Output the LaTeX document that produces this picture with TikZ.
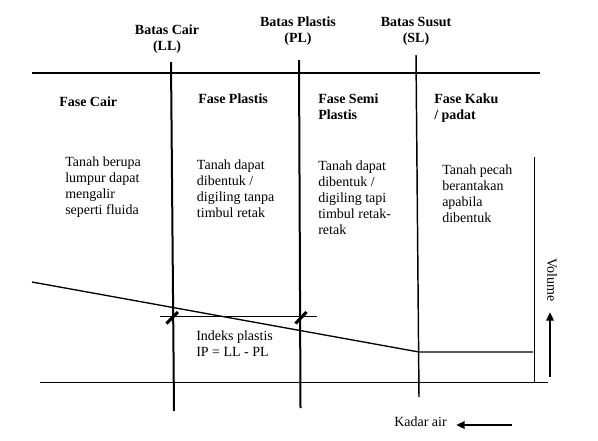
\documentclass[tikz,border=0pt]{standalone}
\usepackage{fontspec}
\setmainfont{Liberation Serif}
\usetikzlibrary{arrows.meta, positioning, calc}

\begin{document}
\begin{tikzpicture}[>=Latex, x=0.75pt, y=-0.75pt, every node/.style={font=\fontsize{10.5}{12}\selectfont, inner sep=0pt}]
% Define styles for limits, phase headers, descriptions and arrows
% (multi-line nodes sit on the baseline of their last line)
\tikzstyle{limit} = [line width=1.5pt]
\tikzstyle{head} = [font=\fontsize{10.5}{12}\selectfont\bfseries, align=center, anchor=base]
\tikzstyle{phase} = [font=\fontsize{10.5}{12}\selectfont\bfseries, align=left, anchor=base west]
\tikzstyle{desc} = [align=left, anchor=base west]
\tikzstyle{tick} = [line width=2.3pt]
\tikzstyle{axis} = [line width=1.8pt, -{Triangle[length=6.5pt, width=5.5pt]}]
\useasboundingbox (0,0) rectangle (598,440);

% Limit lines
\coordinate (LLtop) at (171,62);  \coordinate (LLbot) at (174,411);
\coordinate (PLtop) at (299,60);  \coordinate (PLbot) at (300.5,408);
\coordinate (SLtop) at (416,55);  \coordinate (SLbot) at (419,397);
\draw[line width=2pt] (32,73) coordinate (topL) -- (540,73) coordinate (topR);
\draw[limit] (LLtop) -- (LLbot);
\draw[limit] (PLtop) -- (PLbot);
\draw[line width=1.1pt] (SLtop) -- (SLbot);

% Limit labels
\node [head] (LL) at (167,50) {Batas Cair\\(LL)};
\node [head] (PL) at (298,42) {Batas Plastis\\(PL)};
\node [head] (SL) at (416,42) {Batas Susut\\(SL)};

% Phase headers
\node [phase] (cair) at (59,106) {Fase Cair};
\node [phase] (plastis) at (198,103.3) {Fase Plastis};
\node [phase] (semi) at (318,119.3) {Fase Semi\\Plastis};
\node [phase] (kaku) at (434,119.3) {Fase Kaku\\/ padat};

% Descriptions
\node [desc] (dcair) at (65,214.7) {Tanah berupa\\lumpur dapat\\mengalir\\seperti fluida};
\node [desc] (dplastis) at (196.7,217.3) {Tanah dapat\\dibentuk /\\digiling tanpa\\timbul retak};
\node [desc] (dsemi) at (318,234.7) {Tanah dapat\\dibentuk /\\digiling tapi\\timbul retak-\\retak};
\node [desc] (dkaku) at (442,222.3) {Tanah pecah\\berantakan\\apabila\\dibentuk};

% Volume curve
\coordinate (v0) at (32,282);
\coordinate (vSL) at (419,352);
\coordinate (vR) at (533,352);
\draw[line width=1pt] (v0) -- (vSL) -- (vR);

% Plasticity index
\draw[line width=0.75pt] (160,316) coordinate (ipL) -- (317,316) coordinate (ipR);
\draw[tick] (166.5,323.5) -- (178,312);
\draw[tick] (295.5,323.5) -- (306.5,312);
\node [desc] (ip) at (196,356) {Indeks plastis\\IP = LL - PL};

% Axes
\draw[line width=0.75pt] (40,382) coordinate (baseL) -- (548,382) coordinate (baseR);
\draw[line width=0.75pt] (534,157) coordinate (volTop) -- (534,382) coordinate (volBot);
\node [rotate=-90] (volume) at (552,280) {Volume};
\coordinate (upS) at (550,377);
\coordinate (upE) at (550,312);
\draw[axis] (upS) -- (upE);
\node [anchor=base west] (kadar) at (394,426.7) {Kadar air};
\coordinate (leftS) at (512,425);
\coordinate (leftE) at (456,425);
\draw[axis] (leftS) -- (leftE);
\end{tikzpicture}
\end{document}
